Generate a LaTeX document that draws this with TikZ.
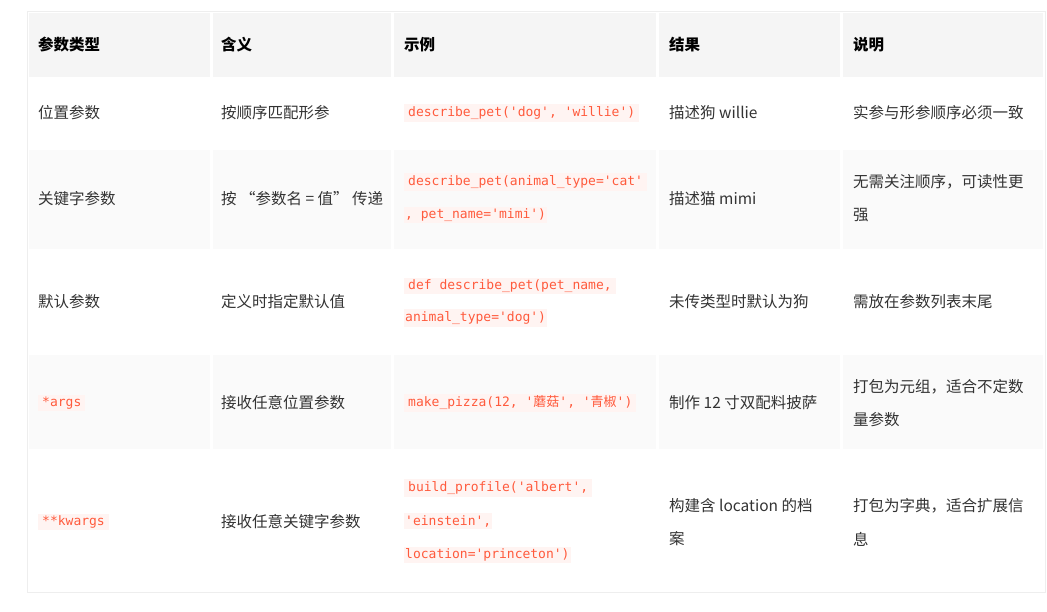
\documentclass[tikz,border=0pt]{standalone}
\usepackage{fontspec}
\setmainfont{Noto Sans CJK SC}
\setmonofont{DejaVu Sans Mono}
\newfontfamily\cjk{Noto Sans CJK SC}
\definecolor{headbg}{HTML}{F5F5F5}
\definecolor{oddbg}{HTML}{FAFAFA}
\definecolor{codefg}{HTML}{FF5A3C}
\definecolor{codebg}{HTML}{FFF4F2}
\definecolor{textfg}{HTML}{333333}
\definecolor{framecol}{HTML}{EEEEEE}
\tikzset{
  txt/.style={anchor=west, inner sep=0pt, text=textfg, font=\fontsize{15.5}{18}\selectfont},
  head/.style={txt, text=black, font=\fontsize{15.5}{18}\selectfont\bfseries},
  chip/.style={anchor=west, inner xsep=4pt, inner ysep=2pt, fill=codebg, text=codefg,
    font=\fontsize{13}{15}\ttfamily},
}
\newcommand{\zh}[1]{{\cjk\fontsize{13}{15}\selectfont #1}}
\begin{document}
\begin{tikzpicture}[x=1pt,y=-1pt]
\useasboundingbox (0,0) rectangle (1047,612);
\fill[white] (0,0) rectangle (1047,612);
\draw[framecol] (27,11) rectangle (1045,592);
% cell backgrounds
\foreach \xa/\xb in {29/210,213/391,394/656,659/840,843/1043} {
  \fill[headbg] (\xa,13) rectangle (\xb,77);
  \fill[oddbg] (\xa,150) rectangle (\xb,249);
  \fill[oddbg] (\xa,355) rectangle (\xb,449);
}
% header
\node[head] (h1) at (38,45) {参数类型};
\node[head] (h2) at (221,45) {含义};
\node[head] (h3) at (404,45) {示例};
\node[head] (h4) at (669,45) {结果};
\node[head] (h5) at (853,45) {说明};
% row 1
\node[txt] (a1) at (38,113) {位置参数};
\node[txt] (b1) at (221,113) {按顺序匹配形参};
\node[chip] (c1) at (404,113) {describe\_pet('dog', 'willie')};
\node[txt] (d1) at (669,113) {描述狗 willie};
\node[txt] (e1) at (853,113) {实参与形参顺序必须一致};
% row 2
\node[txt] (a2) at (38,199) {关键字参数};
\node[txt] (b2) at (221,199) {按 “参数名 = 值” 传递};
\node[chip] (c2a) at (404,182) {describe\_pet(animal\_type='cat'};
\node[chip, inner xsep=1pt] (c2b) at (404,215) {, pet\_name='mimi')\hspace{3pt}};
\node[txt] (d2) at (669,199) {描述猫 mimi};
\node[txt] (e2a) at (853,182) {无需关注顺序，可读性更};
\node[txt] (e2b) at (853,215) {强};
% row 3
\node[txt] (a3) at (38,302) {默认参数};
\node[txt] (b3) at (221,302) {定义时指定默认值};
\node[chip] (c3a) at (404,286) {def describe\_pet(pet\_name,};
\node[chip, inner xsep=1pt] (c3b) at (404,318) {animal\_type='dog')\hspace{3pt}};
\node[txt] (d3) at (669,302) {未传类型时默认为狗};
\node[txt] (e3) at (853,302) {需放在参数列表末尾};
% row 4
\node[chip] (a4) at (38,403) {*args};
\node[txt] (b4) at (221,403) {接收任意位置参数};
\node[chip] (c4) at (404,403) {make\_pizza(12, '\zh{蘑菇}', '\zh{青椒}')};
\node[txt] (d4) at (669,403) {制作 12 寸双配料披萨};
\node[txt] (e4a) at (853,387) {打包为元组，适合不定数};
\node[txt] (e4b) at (853,420) {量参数};
% row 5
\node[chip] (a5) at (38,522) {**kwargs};
\node[txt] (b5) at (221,522) {接收任意关键字参数};
\node[chip] (c5a) at (404,488) {build\_profile('albert',};
\node[chip, inner xsep=1pt] (c5b) at (404,521) {'einstein',};
\node[chip, inner xsep=1pt] (c5c) at (404,555) {location='princeton')\hspace{3pt}};
\node[txt] (d5a) at (669,506) {构建含 location 的档};
\node[txt] (d5b) at (669,539) {案};
\node[txt] (e5a) at (853,506) {打包为字典，适合扩展信};
\node[txt] (e5b) at (853,539) {息};
\end{tikzpicture}
\end{document}
